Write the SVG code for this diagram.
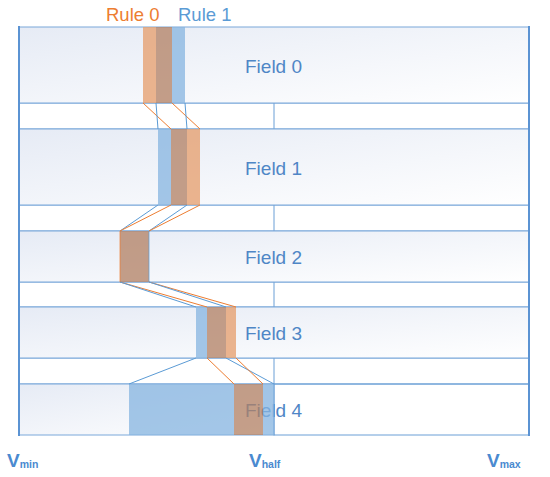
<svg xmlns="http://www.w3.org/2000/svg" width="550" height="477" viewBox="0 0 550 477">
<defs>
<linearGradient id="fg" x1="0" y1="0" x2="1" y2="1">
<stop offset="0" stop-color="#e6ebf5"/>
<stop offset="1" stop-color="#ffffff"/>
</linearGradient>
</defs>
<style>
.field{fill:url(#fg);stroke:#7aa8da;stroke-width:1}
.grid{stroke:#6a9fd6;stroke-width:1;fill:none}
.outer{stroke:#5b93d3;stroke-width:2;fill:none}
.lbl{font-family:"Liberation Sans",Arial,sans-serif;font-size:19px;fill:#4f86c6}
.rl{font-family:"Liberation Sans",Arial,sans-serif;font-size:18.5px}
.o{fill:#e59c6a;opacity:0.75}
.b{fill:#85b4e0;opacity:0.75}
.ob{fill:#b17f62;opacity:0.75}
.co{stroke:#ed7d31;stroke-width:1;fill:none}
.cb{stroke:#5b9bd5;stroke-width:1;fill:none}
.v{font-family:"Liberation Sans",Arial,sans-serif;font-weight:bold;fill:#4a8ad0}
</style>
<rect x="0" y="0" width="550" height="477" fill="#ffffff"/>
<text class="rl" x="106" y="20.5" fill="#ed7d31">Rule 0</text>
<text class="rl" x="178" y="20.5" fill="#5b9bd5">Rule 1</text>

<g id="frame">
<rect x="19" y="103" width="510" height="26" fill="#ffffff" class="grid"/>
<rect x="19" y="205" width="510" height="26" fill="#ffffff" class="grid"/>
<rect x="19" y="282" width="510" height="25" fill="#ffffff" class="grid"/>
<rect x="19" y="358" width="510" height="26" fill="#ffffff" class="grid"/>
<line class="grid" x1="274" y1="103" x2="274" y2="129"/>
<line class="grid" x1="274" y1="205" x2="274" y2="231"/>
<line class="grid" x1="274" y1="282" x2="274" y2="307"/>
<line class="grid" x1="274" y1="358" x2="274" y2="384"/>
</g>

<g id="field0">
<rect class="field" x="19" y="27" width="510" height="76"/>
<text class="lbl" x="245" y="72.5">Field 0</text>
<rect class="o" x="143" y="27" width="13" height="76"/>
<rect class="ob" x="156" y="27" width="16" height="76"/>
<rect class="b" x="172" y="27" width="13" height="76"/>
</g>
<g id="field1">
<rect class="field" x="19" y="129" width="510" height="76"/>
<text class="lbl" x="245" y="174.5">Field 1</text>
<rect class="b" x="158" y="129" width="13" height="76"/>
<rect class="ob" x="171" y="129" width="16" height="76"/>
<rect class="o" x="187" y="129" width="13" height="76"/>
</g>
<g id="field2">
<rect class="field" x="19" y="231" width="510" height="51"/>
<text class="lbl" x="245" y="264">Field 2</text>
<rect class="ob" x="120" y="231" width="29" height="51"/>
<line x1="120" y1="231" x2="120" y2="282" stroke="#ed7d31" stroke-width="1" opacity="0.7"/>
<line x1="149" y1="231" x2="149" y2="282" stroke="#5b9bd5" stroke-width="1" opacity="0.7"/>
</g>
<g id="field3">
<rect class="field" x="19" y="307" width="510" height="51"/>
<text class="lbl" x="245" y="340">Field 3</text>
<rect class="b" x="196" y="307" width="11" height="51"/>
<rect class="ob" x="207" y="307" width="19" height="51"/>
<rect class="o" x="226" y="307" width="10" height="51"/>
</g>
<g id="field4">
<rect class="field" x="19" y="384" width="255" height="51"/>
<rect x="274" y="384" width="255" height="51" fill="#ffffff" class="grid"/>
<text class="lbl" x="245" y="417">Field 4</text>
<rect class="b" x="129" y="384" width="105" height="51"/>
<rect class="ob" x="234" y="384" width="29" height="51"/>
<rect class="b" x="263" y="384" width="11" height="51"/>
</g>

<g id="connectors">
<line class="co" x1="143" y1="103" x2="171" y2="129"/>
<line class="co" x1="172" y1="103" x2="200" y2="129"/>
<line class="cb" x1="156" y1="103" x2="158" y2="129"/>
<line class="cb" x1="185" y1="103" x2="187" y2="129"/>
<line class="cb" x1="158" y1="205" x2="120" y2="231"/>
<line class="cb" x1="187" y1="205" x2="149" y2="231"/>
<line class="co" x1="171" y1="205" x2="120" y2="231"/>
<line class="co" x1="200" y1="205" x2="149" y2="231"/>
<line class="co" x1="120" y1="282" x2="207" y2="307"/>
<line class="co" x1="149" y1="282" x2="236" y2="307"/>
<line class="cb" x1="120" y1="282" x2="196" y2="307"/>
<line class="cb" x1="149" y1="282" x2="226" y2="307"/>
<line class="cb" x1="196" y1="358" x2="129" y2="384"/>
<line class="cb" x1="226" y1="358" x2="274" y2="384"/>
<line class="co" x1="207" y1="358" x2="234" y2="384"/>
<line class="co" x1="236" y1="358" x2="263" y2="384"/>
</g>

<g id="outer">
<line class="outer" x1="19" y1="26" x2="19" y2="436"/>
<line class="outer" x1="529" y1="26" x2="529" y2="436"/>
</g>

<text class="v" x="7" y="467"><tspan font-size="19">V</tspan><tspan font-size="10.5" dy="1">min</tspan></text>
<text class="v" x="249" y="467"><tspan font-size="19">V</tspan><tspan font-size="10.5" dy="1">half</tspan></text>
<text class="v" x="487" y="467"><tspan font-size="19">V</tspan><tspan font-size="10.5" dy="1">max</tspan></text>
</svg>
